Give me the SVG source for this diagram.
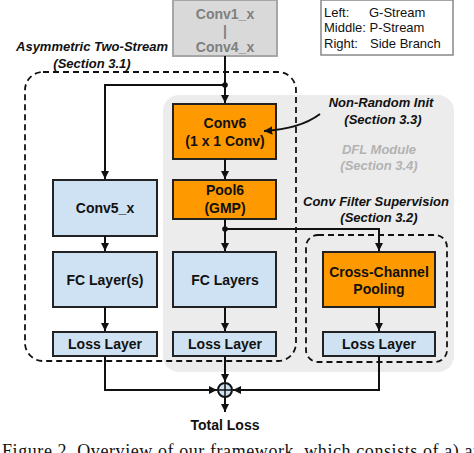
<svg xmlns="http://www.w3.org/2000/svg" width="474" height="453" viewBox="0 0 474 453">
<defs>
<marker id="ah" viewBox="0 0 10 10" refX="10" refY="5" markerWidth="4.2" markerHeight="4.2" orient="auto" markerUnits="strokeWidth">
<path d="M0,0 L10,5 L0,10 z" fill="#111"/>
</marker>
<style>
.t{font-family:"Liberation Sans",Arial,sans-serif;font-weight:bold;font-size:14px;fill:#111;text-anchor:middle;dominant-baseline:central}
.lbl{font-family:"Liberation Sans",Arial,sans-serif;font-weight:bold;font-style:italic;font-size:13px;fill:#111;text-anchor:middle}
.leg{font-family:"Liberation Sans",Arial,sans-serif;font-size:13px;fill:#111}
.blue{fill:#cfe2f3;stroke:#222;stroke-width:2}
.orange{fill:#ff9900;stroke:#222;stroke-width:2}
.dash{fill:none;stroke:#111;stroke-width:1.8;stroke-dasharray:6,4}
.c{fill:none;stroke:#111;stroke-width:2}
</style>
</defs>
<rect width="474" height="453" fill="#fff"/>
<g id="dfl-module">
<rect x="163" y="95" width="291" height="277" rx="16" fill="#ececec"/>
<text class="lbl" x="379" y="154" style="fill:#b3b3b3">DFL Module</text>
<text class="lbl" x="379" y="170" style="fill:#b3b3b3">(Section 3.4)</text>
</g>
<g id="asymmetric-two-stream">
<rect class="dash" x="25" y="72" width="271" height="289" rx="18"/>
<text class="lbl" x="92" y="51">Asymmetric Two-Stream</text>
<text class="lbl" x="92" y="68">(Section 3.1)</text>
</g>
<g id="conv-filter-supervision">
<rect class="dash" x="306" y="235" width="141" height="127" rx="12"/>
<text class="lbl" x="376" y="206">Conv Filter Supervision</text>
<text class="lbl" x="379" y="222">(Section 3.2)</text>
</g>
<g id="legend">
<rect x="321" y="0" width="132" height="55" fill="#fff" stroke="#888" stroke-width="1.5"/>
<text class="leg" x="324" y="17">Left:</text><text class="leg" x="369" y="17">G-Stream</text>
<text class="leg" x="324" y="32">Middle: P-Stream</text>
<text class="leg" x="324" y="48">Right:</text><text class="leg" x="370" y="48">Side Branch</text>
</g>
<g id="conv1-4">
<rect x="173" y="0" width="104" height="56" fill="#d9d9d9" stroke="#a6a6a6" stroke-width="2"/>
<text class="t" x="225" y="14" style="fill:#7f7f7f">Conv1_x</text>
<text class="t" x="225" y="31" style="fill:#7f7f7f">|</text>
<text class="t" x="225" y="47" style="fill:#7f7f7f">Conv4_x</text>
</g>
<g id="conv6">
<rect class="orange" x="173" y="104" width="103" height="55"/>
<text class="t" x="225" y="123">Conv6</text>
<text class="t" x="225" y="141">(1 x 1 Conv)</text>
</g>
<g id="non-random-init">
<text class="lbl" x="381" y="107">Non-Random Init</text>
<text class="lbl" x="383" y="124">(Section 3.3)</text>
</g>
<g id="pool6">
<rect class="orange" x="173" y="180" width="103" height="39"/>
<text class="t" x="225" y="190">Pool6</text>
<text class="t" x="225" y="208">(GMP)</text>
</g>
<g id="conv5">
<rect class="blue" x="53" y="180" width="104" height="56"/>
<text class="t" x="105" y="208">Conv5_x</text>
</g>
<g id="fc-left">
<rect class="blue" x="53" y="252" width="104" height="55"/>
<text class="t" x="105" y="280">FC Layer(s)</text>
</g>
<g id="fc-mid">
<rect class="blue" x="173" y="252" width="103" height="55"/>
<text class="t" x="225" y="280">FC Layers</text>
</g>
<g id="ccp">
<rect class="orange" x="323" y="252" width="112" height="55"/>
<text class="t" x="379" y="272">Cross-Channel</text>
<text class="t" x="379" y="289">Pooling</text>
</g>
<g id="loss-left">
<rect class="blue" x="53" y="332" width="104" height="24"/>
<text class="t" x="105" y="344">Loss Layer</text>
</g>
<g id="loss-mid">
<rect class="blue" x="173" y="332" width="103" height="24"/>
<text class="t" x="225" y="344">Loss Layer</text>
</g>
<g id="loss-right">
<rect class="blue" x="323" y="332" width="112" height="24"/>
<text class="t" x="379" y="344">Loss Layer</text>
</g>
<g id="sum">
<circle cx="225" cy="390" r="7" fill="#cfe2f3" stroke="#111" stroke-width="2"/>
<path d="M218,390 H232 M225,383 V397" stroke="#111" stroke-width="1.5"/>
</g>
<g id="total-loss">
<text class="t" x="225" y="425">Total Loss</text>
</g>
<g id="connectors">
<path class="c" d="M225,56 V103" marker-end="url(#ah)"/>
<path class="c" d="M225,85 H105 V179" marker-end="url(#ah)"/>
<circle cx="225" cy="85" r="2.8" fill="#111"/>
<path class="c" d="M225,159 V179" marker-end="url(#ah)"/>
<path class="c" d="M225,219 V251" marker-end="url(#ah)"/>
<path class="c" d="M225,229 H379 V251" marker-end="url(#ah)"/>
<circle cx="225" cy="229" r="2.8" fill="#111"/>
<path class="c" d="M105,236 V251" marker-end="url(#ah)"/>
<path class="c" d="M105,307 V331" marker-end="url(#ah)"/>
<path class="c" d="M225,307 V331" marker-end="url(#ah)"/>
<path class="c" d="M379,307 V331" marker-end="url(#ah)"/>
<path class="c" d="M105,356 V390 H217" marker-end="url(#ah)"/>
<path class="c" d="M379,356 V390 H233" marker-end="url(#ah)"/>
<path class="c" d="M225,356 V382" marker-end="url(#ah)"/>
<path class="c" d="M225,397 V412" marker-end="url(#ah)"/>
<path class="c" d="M320,114 Q300,129 264,131" marker-end="url(#ah)"/>
</g>
<text x="2" y="457" font-family="'Liberation Serif','Times New Roman',serif" font-size="18" fill="#111" textLength="480" lengthAdjust="spacing">Figure 2.  Overview of our framework, which consists of a) an</text>
</svg>
